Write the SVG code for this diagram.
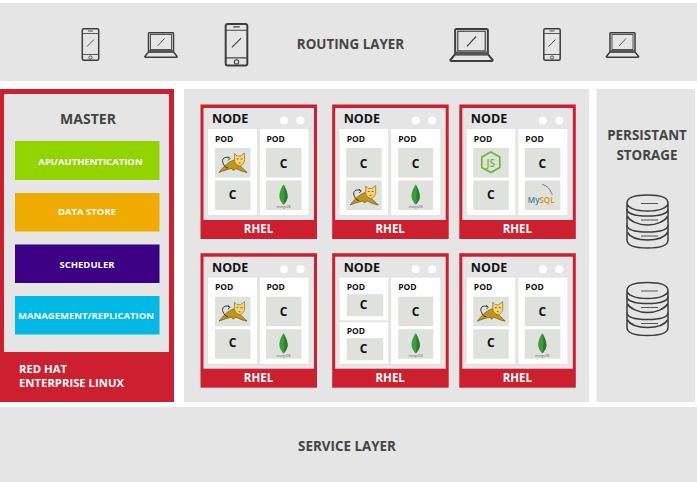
<svg xmlns="http://www.w3.org/2000/svg" width="697" height="482" viewBox="0 0 697 482">
<style>
text{font-family:"Open Sans","Noto Sans","Liberation Sans",sans-serif;font-weight:700}
.band{fill:#e5e5e5}
.red{fill:#cc2030}
.inner{fill:#e5e5e5}
.pod{fill:#fff}
.box{fill:#dfe1dc}
.dot{fill:#fff}
.nt{font-size:12.5px;fill:#111}
.pt{font-size:8.5px;fill:#111}
.ct{font-size:12px;fill:#111;text-anchor:middle}
.rt{font-size:11.5px;fill:#fff;text-anchor:middle}
.bar{font-size:9.5px;fill:#fff;text-anchor:middle}
.lab{font-size:13.4px;fill:#444;text-anchor:middle}
.ic{fill:none;stroke:#3c3c3c;stroke-width:1.5}
.thin{fill:none;stroke:#444;stroke-width:.9}
</style>
<defs>
<symbol id="phone" viewBox="0 0 18 33" overflow="visible">
<rect class="ic" x=".8" y=".8" width="16.4" height="31.400" rx="1.500"/>
<path class="thin" d="M1 5.500H17M1 26.500H17M6.500 3H11.500"/>
<circle class="thin" cx="9" cy="29.500" r="1.600"/>
<path class="thin" d="M5.500 18.500L12.500 11.500"/>
</symbol>
<symbol id="laptop" viewBox="0 0 34 26" overflow="visible">
<path class="ic" d="M4.500 20V1.500Q4.500 .8 5.500 .8H28.500Q29.500 .8 29.500 1.500V20M4.500 20L.8 24.500Q.8 25.200 1.500 25.200H32.500Q33.200 25.200 33.200 24.500L29.500 20Z"/>
<rect class="thin" x="6.500" y="2.500" width="21" height="15"/>
<path d="M4.500 18H29.500V21H4.500Z" fill="#555"/>
<path class="thin" d="M13.500 14L20.500 6.500"/>
</symbol>
<symbol id="db" viewBox="0 0 43 55" overflow="visible">
<path class="ic" d="M1 9C1 3 10 1 21.500 1S42 3 42 9V15C42 20 32 22 21.500 22S1 20 1 15ZM1 9C1 14 10 17 21.500 17S42 14 42 9"/>
<path class="ic" d="M1 15V31C1 36 10 38 21.500 38S42 36 42 31V15M1 22C4 27 12 31 21.500 31S39 27 42 22"/>
<path class="ic" d="M1 31V46C1 52 10 54 21.500 54S42 52 42 46V31M1 38C4 43 12 46 21.500 46S39 43 42 38"/>
<path class="thin" d="M15 9.500H32M15 26H32M15 42H32"/>
</symbol>
<symbol id="tomcat" viewBox="0 0 35 30" overflow="visible">
<path fill="#c2951a" stroke="#5f490c" stroke-width=".6" d="M4 24.500C8 19 13 14 19 12L23 16C26 19 30 22 32 24.500C27 23.500 24 22 21 20.500L18 22.500L17 20.500C13 21 8 23 4 24.500Z"/>
<path fill="#f7d76d" stroke="#7a5f12" stroke-width=".6" d="M19.500 5.500L22 8H25.500L29.500 5V13C28.500 16.500 26 18 24.500 18C21.500 17 19.500 15 19.500 12Z"/>
<path fill="none" stroke="#222" stroke-width=".9" d="M14 10C10 8 6 11 8 15C9 18 11 20 13 20M13 8.500L15 10.500L13 12.500"/>
<path fill="none" stroke="#222" stroke-width=".6" d="M21.500 11H23.500M25.500 11H27.500M23.500 15L25.500 15"/>
</symbol>
<symbol id="mongo" viewBox="0 0 35 30" overflow="visible">
<path fill="#3f9b3c" d="M17.500 4C21 9 22 14 21.500 17C21 20 19 22.500 17.800 24H17.200C16 22.500 14 20 13.500 17C13 14 14 9 17.500 4Z"/>
<path fill="#2d7a2f" d="M17.500 4C19 9 18.500 19 17.800 24C21 21 22 17 21.500 15C21 11 19 7 17.500 4Z"/>
<text x="17.500" y="27.500" text-anchor="middle" style="font-size:3px;font-weight:400;fill:#666">mongoDB</text>
</symbol>
</defs>

<g id="routing-layer">
<rect class="band" x="0" y="3" width="697" height="78"/>
<text class="lab" x="350.500" y="49">ROUTING LAYER</text>
<use href="#phone" x="81.500" y="28" width="18" height="33"/>
<use href="#laptop" x="144" y="32" width="34" height="26"/>
<use href="#phone" x="224.500" y="23" width="24" height="43.500"/>
<use href="#laptop" x="448" y="28" width="47" height="34"/>
<use href="#phone" x="543" y="28" width="18" height="33"/>
<use href="#laptop" x="605.500" y="32" width="34" height="26"/>
</g>

<g id="master">
<rect class="red" x="0" y="89" width="174" height="313"/>
<rect class="inner" x="4" y="94" width="165" height="258"/>
<text class="lab" x="88" y="124" style="font-size:14px">MASTER</text>
<g id="api"><rect x="15" y="141" width="144.500" height="39" fill="#92d400"/><text class="bar" x="90.500" y="165">API/AUTHENTICATION</text></g>
<g id="datastore"><rect x="15" y="193" width="144.500" height="38.500" fill="#f0ab00"/><text class="bar" x="87" y="215">DATA STORE</text></g>
<g id="scheduler"><rect x="15" y="244.500" width="144.500" height="38.500" fill="#3b0083"/><text class="bar" x="87" y="268">SCHEDULER</text></g>
<g id="management"><rect x="15" y="296" width="144.500" height="38.500" fill="#00b9e4"/><text class="bar" x="86" y="319">MANAGEMENT/REPLICATION</text></g>
<text x="19" y="373" style="font-size:11.300px" fill="#fff">RED HAT</text>
<text x="19" y="387" style="font-size:11.300px" fill="#fff">ENTERPRISE LINUX</text>
</g>

<rect id="cluster" class="band" x="184" y="89" width="405" height="313"/>

<g id="node1" transform="translate(200.500 104.500)">
<rect class="red" width="116.500" height="134.500"/><rect class="inner" x="3" y="3.500" width="110.500" height="112"/>
<text class="nt" x="11.500" y="18.500">NODE</text><circle class="dot" cx="83.500" cy="16" r="4"/><circle class="dot" cx="100" cy="16" r="4"/>
<rect class="pod" x="7.500" y="24.500" width="49" height="86"/><rect class="pod" x="59.500" y="24.500" width="48.500" height="86"/>
<text class="pt" x="14.500" y="37">POD</text><text class="pt" x="66" y="37">POD</text>
<rect class="box" x="14.500" y="43.500" width="35.500" height="29.500"/><rect class="box" x="14.500" y="76" width="35.500" height="29.500"/>
<rect class="box" x="65.500" y="43.500" width="35.500" height="29.500"/><rect class="box" x="65.500" y="76" width="35.500" height="29.500"/>
<use href="#tomcat" x="14.500" y="43.500" width="35" height="30"/><text class="ct" x="32" y="94">C</text>
<text class="ct" x="83" y="63">C</text><use href="#mongo" x="65.500" y="76" width="35" height="30"/>
<text class="rt" x="58" y="128.500">RHEL</text>
</g>

<g id="node2" transform="translate(332.200 104.500)">
<rect class="red" width="116.500" height="134.500"/><rect class="inner" x="3" y="3.500" width="110.500" height="112"/>
<text class="nt" x="11.500" y="18.500">NODE</text><circle class="dot" cx="83.500" cy="16" r="4"/><circle class="dot" cx="100" cy="16" r="4"/>
<rect class="pod" x="7.500" y="24.500" width="48.500" height="86"/><rect class="pod" x="59" y="24.500" width="49" height="86"/>
<text class="pt" x="14.500" y="37">POD</text><text class="pt" x="66" y="37">POD</text>
<rect class="box" x="14" y="43.500" width="35.500" height="29.500"/><rect class="box" x="14" y="76" width="35.500" height="29.500"/>
<rect class="box" x="66" y="43.500" width="35" height="29.500"/><rect class="box" x="66" y="76" width="35" height="29.500"/>
<text class="ct" x="31.500" y="63">C</text><use href="#tomcat" x="14" y="76" width="35" height="30"/>
<text class="ct" x="83.500" y="63">C</text><use href="#mongo" x="66" y="76" width="35" height="30"/>
<text class="rt" x="58" y="128.500">RHEL</text>
</g>

<g id="node3" transform="translate(459.300 104.500)">
<rect class="red" width="116.500" height="134.500"/><rect class="inner" x="3" y="3.500" width="110.500" height="112"/>
<text class="nt" x="11.500" y="18.500">NODE</text><circle class="dot" cx="83.500" cy="16" r="4"/><circle class="dot" cx="100" cy="16" r="4"/>
<rect class="pod" x="7.500" y="24.500" width="48.500" height="86"/><rect class="pod" x="59" y="24.500" width="49" height="86"/>
<text class="pt" x="14.500" y="37">POD</text><text class="pt" x="66" y="37">POD</text>
<rect class="box" x="14" y="43.500" width="35.500" height="29.500"/><rect class="box" x="14" y="76" width="35.500" height="29.500"/>
<rect class="box" x="65.500" y="43.500" width="35.500" height="29.500"/><rect class="box" x="65.500" y="76" width="35.500" height="29.500"/>
<path d="M31.500 47.500L40.500 52.500V63L31.500 68L22.500 63V52.500Z" fill="none" stroke="#6fb52c" stroke-width="1.600"/>
<text x="31.500" y="62" text-anchor="middle" style="font-size:10px;font-weight:600" fill="#6fb52c">JS</text>
<text class="ct" x="31.500" y="94">C</text>
<text class="ct" x="83" y="63">C</text>
<path class="thin" d="M83 80C88 81 91 85 93 90" style="stroke:#4a6f8c"/>
<text x="68.500" y="98" style="font-size:8px;font-weight:600" fill="#3f7c9e">My<tspan fill="#e48e00">SQL</tspan></text>
<text class="rt" x="58" y="128.500">RHEL</text>
</g>

<g id="node4" transform="translate(200.500 253.200)">
<rect class="red" width="116.500" height="134.500"/><rect class="inner" x="3" y="3.500" width="110.500" height="112"/>
<text class="nt" x="11.500" y="18.500">NODE</text><circle class="dot" cx="83.500" cy="16" r="4"/><circle class="dot" cx="100" cy="16" r="4"/>
<rect class="pod" x="7.500" y="24.500" width="49" height="86"/><rect class="pod" x="59.500" y="24.500" width="48.500" height="86"/>
<text class="pt" x="14.500" y="37">POD</text><text class="pt" x="66" y="37">POD</text>
<rect class="box" x="14.500" y="43.500" width="35.500" height="29.500"/><rect class="box" x="14.500" y="76" width="35.500" height="29.500"/>
<rect class="box" x="65.500" y="43.500" width="35.500" height="29.500"/><rect class="box" x="65.500" y="76" width="35.500" height="29.500"/>
<use href="#tomcat" x="14.500" y="43.500" width="35" height="30"/><text class="ct" x="32" y="94">C</text>
<text class="ct" x="83" y="63">C</text><use href="#mongo" x="65.500" y="76" width="35" height="30"/>
<text class="rt" x="58" y="128.500">RHEL</text>
</g>

<g id="node5" transform="translate(332.200 253.200)">
<rect class="red" width="116.500" height="134.500"/><rect class="inner" x="3" y="3.500" width="110.500" height="112"/>
<text class="nt" x="11.500" y="18.500">NODE</text><circle class="dot" cx="83.500" cy="16" r="4"/><circle class="dot" cx="100" cy="16" r="4"/>
<rect class="pod" x="7.500" y="24.500" width="48.500" height="42.500"/><rect class="pod" x="7.500" y="69" width="48.500" height="41.500"/><rect class="pod" x="59" y="24.500" width="49" height="86"/>
<text class="pt" x="14.500" y="37">POD</text><text class="pt" x="14.500" y="80.500">POD</text><text class="pt" x="66" y="37">POD</text>
<rect class="box" x="14.500" y="41" width="36.500" height="22"/><rect class="box" x="14.500" y="85" width="36.500" height="22"/>
<rect class="box" x="66" y="43.500" width="35" height="29.500"/><rect class="box" x="66" y="76" width="35" height="29.500"/>
<text class="ct" x="31.500" y="56">C</text><text class="ct" x="31.500" y="100">C</text>
<text class="ct" x="83.500" y="63">C</text><use href="#mongo" x="66" y="76" width="35" height="30"/>
<text class="rt" x="58" y="128.500">RHEL</text>
</g>

<g id="node6" transform="translate(459.300 253.200)">
<rect class="red" width="116.500" height="134.500"/><rect class="inner" x="3" y="3.500" width="110.500" height="112"/>
<text class="nt" x="11.500" y="18.500">NODE</text><circle class="dot" cx="83.500" cy="16" r="4"/><circle class="dot" cx="100" cy="16" r="4"/>
<rect class="pod" x="7.500" y="24.500" width="48.500" height="86"/><rect class="pod" x="59" y="24.500" width="49" height="86"/>
<text class="pt" x="14.500" y="37">POD</text><text class="pt" x="66" y="37">POD</text>
<rect class="box" x="14" y="43.500" width="35.500" height="29.500"/><rect class="box" x="14" y="76" width="35.500" height="29.500"/>
<rect class="box" x="65.500" y="43.500" width="35.500" height="29.500"/><rect class="box" x="65.500" y="76" width="35.500" height="29.500"/>
<use href="#tomcat" x="14" y="43.500" width="35" height="30"/><text class="ct" x="31.500" y="94">C</text>
<text class="ct" x="83" y="63">C</text><use href="#mongo" x="65.500" y="76" width="35" height="30"/>
<text class="rt" x="58" y="128.500">RHEL</text>
</g>

<g id="storage">
<rect class="band" x="596.500" y="89" width="98.500" height="313"/>
<text class="lab" x="647" y="140">PERSISTANT</text>
<text class="lab" x="647" y="160">STORAGE</text>
<use href="#db" x="626" y="194" width="43" height="55"/>
<use href="#db" x="626" y="281.500" width="43" height="55"/>
</g>

<g id="service-layer">
<rect class="band" x="0" y="407" width="697" height="75"/>
<text class="lab" x="347" y="451">SERVICE LAYER</text>
</g>
<g id="connectors"/>
</svg>
